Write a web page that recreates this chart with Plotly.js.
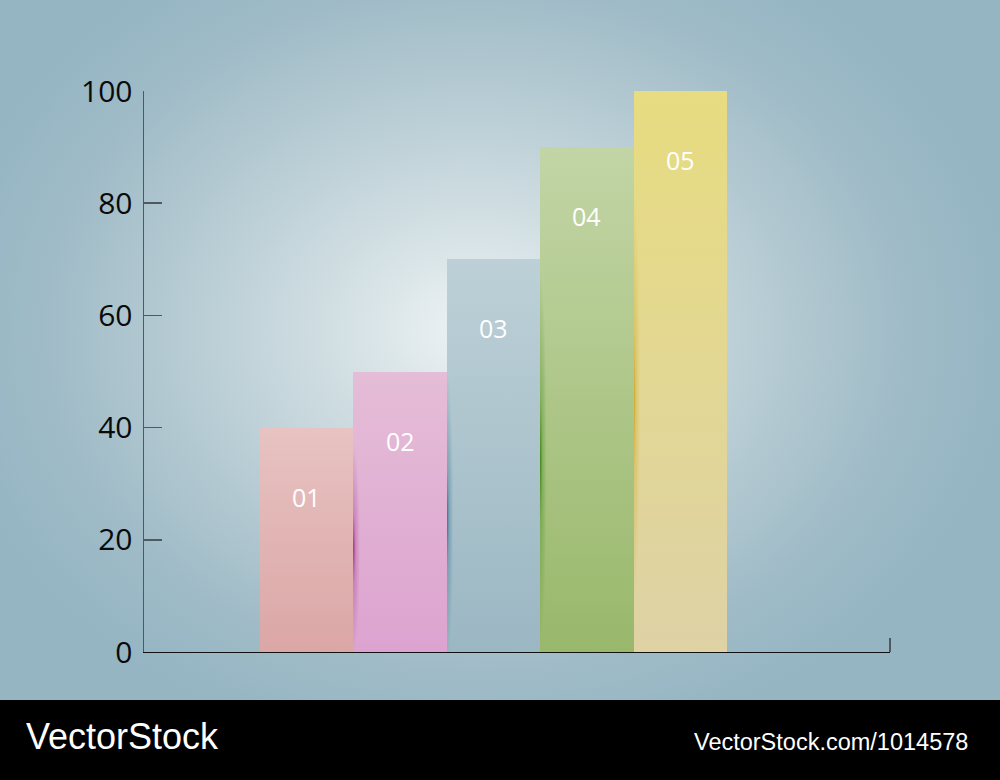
<!DOCTYPE html>
<html>
<head>
<meta charset="utf-8">
<script src="https://cdn.plot.ly/plotly-3.0.1.min.js"></script>
<style>
  html, body { margin: 0; padding: 0; width: 1000px; height: 780px; overflow: hidden; }
  body { background: #000; }
  #bg {
    position: absolute; left: 0; top: 0; width: 1000px; height: 700px;
    background: radial-gradient(ellipse 540px 430px at 475px 330px,
      #eef3f5 0%, #d3e0e4 25%, #b6cbd3 55%, #9fbbc7 80%, #95b5c3 100%);
  }
  #chart { position: absolute; left: 0; top: 0; width: 1000px; height: 700px; }
  #band { position: absolute; left: 0; top: 700px; width: 1000px; height: 80px; background: #000; }
  .brand { position: absolute; color: #fff; font-family: "Liberation Sans", Arial, sans-serif; white-space: nowrap; }
  #brandL { left: 26px; top: 716px; font-size: 36px; }
  #brandR { left: 694px; top: 729px; font-size: 23.5px; }
</style>
</head>
<body>
<div id="bg"></div>
<div id="chart"></div>
<div id="band"></div>
<div class="brand" id="brandL">VectorStock</div>
<div class="brand" id="brandR">VectorStock.com/1014578</div>
<script>
// ---- data ----
const categories = ['01', '02', '03', '04', '05'];
const values = [40, 50, 70, 90, 100];
const yTickValues = [0, 20, 40, 60, 80, 100];
const yTickLabels = ['0', '20', '40', '60', '80', '100'];

// ---- styles ----
const barTopColors = ['#e7c3c1', '#e5bdd7', '#bdd0d7', '#c2d5a6', '#e7dc80'];
const barBottomColors = ['#dba6a6', '#dca3d0', '#9bb7c3', '#99b86b', '#ded2a6'];
const barMidColors = ['#e0b4b3', '#e0b0d4', '#acc3cd', '#aec689', '#e2d793'];
const edgeShadeColors = [null, '#9a2a88', '#1f5f82', '#2f8008', '#c89a08'];
const edgeShadeCenters = [0, 0.63, 0.66, 0.62, 0.55];

const trace = {
  type: 'bar',
  x: categories,
  y: values,
  marker: { color: barMidColors, line: { width: 0 } },
  hoverinfo: 'skip',
  cliponaxis: false
};

const annotations = categories.map((c, i) => ({
  x: i, y: values[i], xref: 'x', yref: 'y',
  text: c, showarrow: false, yshift: -69,
  font: { family: '"Open Sans", sans-serif', size: 25, color: '#ffffff' }
}));

const layout = {
  width: 1000, height: 700,
  margin: { l: 144, r: 110, t: 91, b: 48 },
  paper_bgcolor: 'rgba(0,0,0,0)',
  plot_bgcolor: 'rgba(0,0,0,0)',
  bargap: 0,
  showlegend: false,
  xaxis: {
    type: 'category',
    range: [-1.742, 6.245],
    showgrid: false, zeroline: false,
    showticklabels: false, ticks: '',
    showline: true, linecolor: '#111111', linewidth: 1.2,
    fixedrange: true
  },
  yaxis: {
    range: [0, 100],
    tickvals: yTickValues, ticktext: yTickLabels,
    ticks: 'inside', ticklen: 18, tickwidth: 1.5, tickcolor: '#4e5a60',
    showline: true, linecolor: '#4e5a60', linewidth: 1.5,
    showgrid: false, zeroline: false,
    ticklabelstandoff: 4,
    tickfont: { family: '"Open Sans", sans-serif', size: 30, color: '#0a0a0a' },
    fixedrange: true
  },
  shapes: [{
    type: 'line', xref: 'paper', yref: 'y',
    x0: 1, x1: 1, y0: 0, y1: 2.5,
    line: { color: '#4e5a60', width: 2 }
  }],
  annotations: annotations
};

Plotly.newPlot('chart', [trace], layout, { displayModeBar: false, staticPlot: true }).then(gd => {
  const svg = gd.querySelector('svg.main-svg');
  const NS = 'http://www.w3.org/2000/svg';
  let defs = svg.querySelector('defs');
  if (!defs) { defs = document.createElementNS(NS, 'defs'); svg.insertBefore(defs, svg.firstChild); }
  const mk = (tag, attrs) => {
    const el = document.createElementNS(NS, tag);
    Object.keys(attrs).forEach(k => el.setAttribute(k, attrs[k]));
    return el;
  };
  barTopColors.forEach((top, i) => {
    const g = mk('linearGradient', { id: 'barGrad' + i, x1: 0, y1: 0, x2: 0, y2: 1 });
    g.appendChild(mk('stop', { offset: 0, 'stop-color': top }));
    g.appendChild(mk('stop', { offset: 1, 'stop-color': barBottomColors[i] }));
    defs.appendChild(g);
    if (edgeShadeColors[i]) {
      const cy = edgeShadeCenters[i];
      const r = mk('radialGradient', {
        id: 'edgeShade' + i, cx: 0, cy: cy, fx: 0, fy: cy, r: 0.5,
        gradientTransform: `translate(0,${cy}) scale(0.14,0.75) translate(0,${-cy})`
      });
      r.appendChild(mk('stop', { offset: 0, 'stop-color': edgeShadeColors[i], 'stop-opacity': 0.85 }));
      r.appendChild(mk('stop', { offset: 0.35, 'stop-color': edgeShadeColors[i], 'stop-opacity': 0.3 }));
      r.appendChild(mk('stop', { offset: 1, 'stop-color': edgeShadeColors[i], 'stop-opacity': 0 }));
      defs.appendChild(r);
    }
  });
  gd.querySelectorAll('.trace.bars .point path').forEach((p, i) => {
    p.style.fill = 'url(#barGrad' + i + ')';
    if (edgeShadeColors[i]) {
      const c = p.cloneNode(true);
      c.style.fill = 'url(#edgeShade' + i + ')';
      p.parentNode.appendChild(c);
    }
  });
});
</script>
</body>
</html>
